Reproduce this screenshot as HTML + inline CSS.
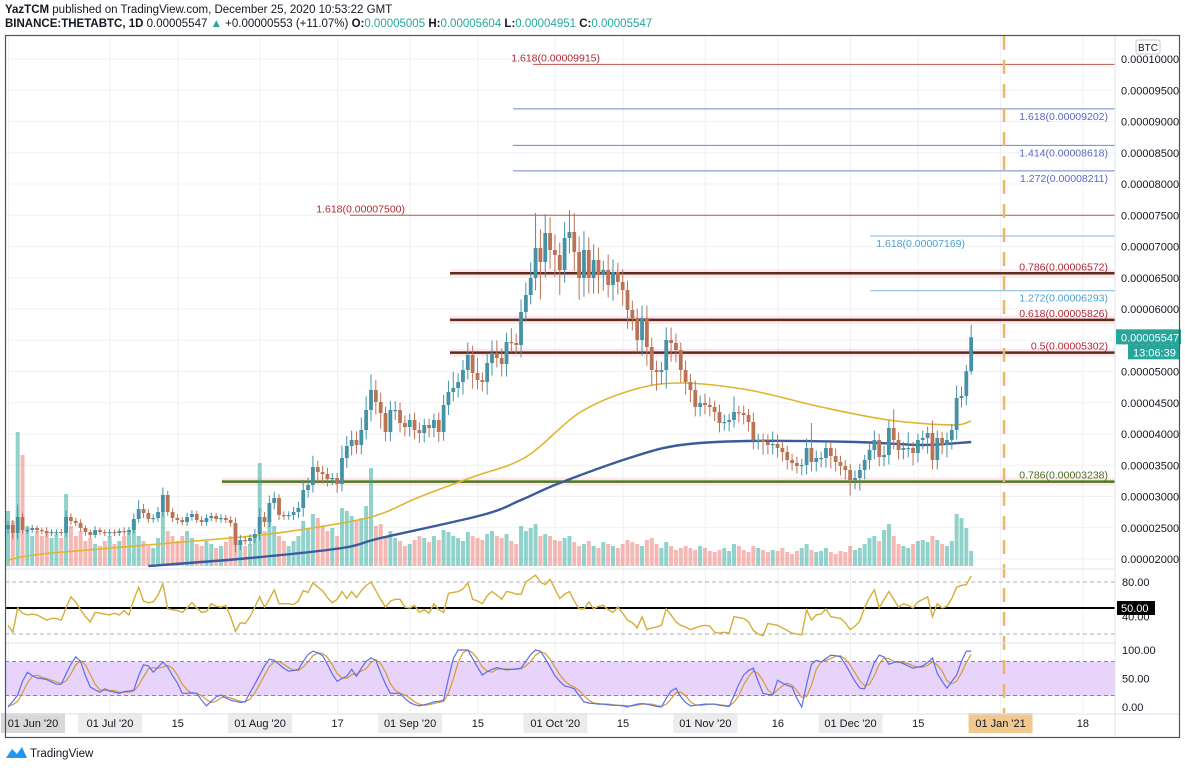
<!DOCTYPE html>
<html><head><meta charset="utf-8"><title>THETABTC chart</title>
<style>
html,body{margin:0;padding:0;background:#fff;}
body{width:1185px;height:768px;overflow:hidden;font-family:"Liberation Sans",sans-serif;}
svg text{font-family:"Liberation Sans",sans-serif;}
</style></head><body>
<svg id="chart" width="1185" height="768" viewBox="0 0 1185 768" xmlns="http://www.w3.org/2000/svg">
<rect x="0" y="0" width="1185" height="768" fill="#ffffff"/>
<g font-size="11.5" fill="#131722">
<text x="5" y="13"><tspan font-weight="bold">YazTCM</tspan> published on TradingView.com, December 25, 2020 10:53:22 GMT</text>
<text x="5" y="27"><tspan font-weight="bold">BINANCE:THETABTC, 1D</tspan> 0.00005547 <tspan fill="#26a69a">▲</tspan> +0.00000553 (+11.07%) <tspan font-weight="bold">O:</tspan><tspan fill="#26a69a">0.00005005</tspan> <tspan font-weight="bold">H:</tspan><tspan fill="#26a69a">0.00005604</tspan> <tspan font-weight="bold">L:</tspan><tspan fill="#26a69a">0.00004951</tspan> <tspan font-weight="bold">C:</tspan><tspan fill="#26a69a">0.00005547</tspan></text>
</g>
<g id="grid"></g>
<rect x="5" y="662" width="1110" height="34" fill="#e8d3fb"/>
<g id="levels"></g>
<g id="volumes"></g>
<g id="mas"></g>
<g id="candles"></g>
<g id="rsi"></g>
<g id="stoch"></g>
<line x1="1004" y1="36" x2="1004" y2="713" stroke="#e8b86a" stroke-width="2.5" stroke-dasharray="14,10"/>
<g id="axes"></g>
<g fill="none">
<line x1="5" y1="569" x2="1115" y2="569" stroke="#e0e3eb"/>
<line x1="5" y1="643" x2="1115" y2="643" stroke="#e0e3eb"/>
<line x1="5" y1="714" x2="1180" y2="714" stroke="#e0e3eb"/>
<line x1="1115" y1="35" x2="1115" y2="737" stroke="#e0e3eb"/>
<rect x="5.5" y="35.5" width="1174" height="702" stroke="#50535e" stroke-width="1.2"/>
</g>
<g>
<path d="M6 758 L12 749 L17 754 L22 747 L27 758 Z" fill="#2196f3"/>
<text x="30" y="757" font-size="11.5" fill="#131722">TradingView</text>
</g>
</svg>
<script>
const closes=[2544,2416,2672,2464,2464,2496,2464,2448,2416,2432,2432,2416,2672,2608,2576,2496,2432,2384,2464,2432,2416,2432,2416,2448,2432,2464,2640,2800,2736,2640,2656,2752,3024,2752,2656,2624,2592,2672,2720,2624,2592,2656,2688,2640,2656,2624,2576,2224,2304,2288,2336,2400,2672,2592,2896,2976,2704,2688,2704,2752,2816,3104,3184,3472,3392,3360,3280,3296,3200,3616,3808,3904,3824,4064,4384,4704,4512,4336,4032,4384,4384,4176,4112,4224,4064,4016,4144,4096,4224,4032,4464,4672,4736,4832,5024,5264,4976,4864,4832,5136,5296,5216,5120,5472,5456,5424,5952,6224,6496,6976,6752,7216,6944,6864,6624,7136,7232,6912,6496,6944,6496,6784,6544,6624,6384,6592,6432,6304,5984,5856,5504,5856,5392,5024,4992,5024,5504,5456,5344,5024,4832,4704,4432,4496,4464,4432,4352,4176,4192,4224,4352,4336,4304,4192,3904,3904,3872,3824,3840,3776,3712,3584,3536,3488,3504,3776,3552,3616,3616,3776,3648,3552,3488,3424,3264,3296,3424,3584,3744,3904,3632,3664,4096,3904,3744,3776,3776,3696,3904,3936,4016,3584,3936,3824,3904,4064,4576,4608,5005,5547];
const firstOpen=2480;
const wickUp=[60,80,200,60,40,50,40,40,60,40,40,50,100,60,50,60,40,40,60,40,40,50,40,40,60,50,90,140,80,60,60,80,120,70,60,60,50,70,60,50,60,60,50,50,60,50,60,90,80,60,60,80,140,80,120,100,60,60,60,80,100,160,120,180,100,100,100,80,80,200,160,150,140,200,220,250,160,150,100,150,140,120,120,100,120,120,100,100,100,120,160,180,260,140,160,200,150,240,120,160,200,200,150,150,220,150,200,200,250,560,300,300,250,250,200,250,350,300,250,300,200,250,200,150,250,200,150,200,150,150,150,200,200,150,150,130,200,200,150,120,150,130,150,120,150,120,100,120,120,100,250,100,120,100,150,100,100,120,200,150,100,100,100,100,100,150,400,120,100,100,100,120,100,100,100,120,100,80,100,150,100,150,120,300,120,100,250,100,100,120,100,200,120,100,120,100,200,150,100,200,250,57];
const wickDn=[80,100,100,60,60,50,50,50,60,50,50,50,60,60,50,60,60,50,50,50,50,60,50,50,60,50,60,60,80,60,60,60,80,60,60,60,50,60,60,50,60,60,50,50,60,50,60,120,80,60,60,80,100,80,80,100,80,60,60,80,100,140,120,120,160,150,120,100,140,120,160,150,140,150,150,180,200,250,150,150,160,150,150,150,150,160,150,150,150,160,140,160,150,150,200,150,250,150,150,200,200,150,200,200,150,150,200,150,150,200,600,250,300,350,400,200,250,300,350,300,250,250,300,250,200,250,200,250,300,200,200,250,300,250,300,200,300,300,200,200,200,200,150,150,150,150,150,150,120,150,120,150,150,150,150,150,200,150,150,150,150,150,120,120,150,150,150,150,150,150,200,150,150,150,250,150,200,150,150,150,150,150,150,150,150,150,150,200,150,150,250,150,150,150,200,150,150,150,150,54];
const volumes=[55,45,134,111,40,30,35,30,35,28,32,28,72,40,30,35,25,28,22,20,25,30,22,25,30,35,45,30,25,20,18,28,55,35,30,25,30,35,28,22,20,25,22,18,20,24,30,40,25,20,22,30,103,35,45,40,30,25,20,25,30,45,38,52,48,40,35,38,30,58,55,50,45,48,60,98,40,42,30,35,28,25,20,22,26,30,28,24,30,26,36,34,30,28,25,34,30,28,26,32,35,30,28,32,25,22,40,35,38,42,30,32,30,26,25,28,30,24,20,22,25,20,18,24,22,20,18,22,26,24,22,20,26,28,22,18,24,20,16,18,20,18,16,20,18,15,14,16,18,15,22,20,16,14,20,18,16,14,16,15,18,14,12,15,18,22,16,14,15,18,14,12,15,14,20,16,18,22,28,30,25,36,42,30,22,20,18,22,25,26,24,30,26,22,20,25,52,48,38,15];
const rsiValues=[30,22,50,44,42,43,42,39,36,38,38,36,50,63,57,48,40,34,45,44,43,42,44,42,47,42,60,74,58,56,57,65,78,49,48,47,45,50,56,50,45,46,55,52,51,53,40,23,33,32,40,51,63,51,60,71,55,55,55,54,58,70,68,79,74,70,62,56,60,69,61,69,62,70,76,80,70,60,51,58,60,60,51,50,53,45,48,44,55,48,45,67,68,69,72,79,60,58,55,64,69,65,60,69,68,66,66,80,84,88,80,77,83,72,61,66,69,58,49,49,57,49,52,53,48,45,51,44,36,33,27,40,25,27,28,30,49,42,34,30,28,25,27,29,30,29,22,21,22,21,40,39,38,34,24,20,18,32,31,30,27,24,21,20,19,48,36,42,43,49,40,39,38,33,25,29,35,51,62,71,50,60,69,60,51,55,53,50,57,60,63,40,55,50,52,61,74,76,77,87];
const stochK=[0,10,21,45,61,55,51,50,48,44,40,40,58,75,88,80,55,35,30,26,32,28,26,24,27,28,30,55,74,72,61,70,79,70,55,42,24,24,25,24,12,2,10,18,21,16,12,10,8,9,25,40,56,72,84,82,75,68,63,64,66,80,92,98,95,90,75,58,45,50,54,66,54,68,80,86,82,60,40,24,24,24,15,8,4,2,4,6,9,10,12,50,85,100,100,100,85,70,56,62,66,69,67,65,66,67,68,80,92,100,98,85,70,55,45,37,35,32,20,9,7,6,5,5,4,3,3,2,0,3,5,6,5,3,1,0,15,28,33,18,8,2,3,4,5,5,5,3,2,1,20,40,56,64,68,45,24,22,21,47,42,38,35,15,0,40,75,82,79,85,91,90,88,75,60,45,33,32,55,78,91,88,75,78,80,76,72,68,70,72,78,86,59,45,33,45,56,80,98,98];
const stochD=[2,4,10,25,42,54,56,52,50,47,44,41,46,58,74,81,74,57,40,30,29,29,29,26,26,26,28,38,53,67,69,68,70,73,68,56,40,30,24,24,20,13,8,10,16,18,16,13,10,9,14,25,40,56,71,79,80,75,69,65,64,70,79,90,95,94,87,74,59,51,50,57,58,63,67,78,83,76,61,41,29,24,21,16,9,5,3,4,6,8,10,24,49,78,95,100,95,85,70,63,61,66,67,67,66,66,67,72,80,91,97,94,84,70,57,46,39,35,29,20,12,7,6,5,5,4,3,3,2,2,3,5,5,5,3,1,5,14,25,26,20,9,4,3,4,5,5,4,3,2,8,20,39,53,63,59,46,30,22,30,37,42,38,29,17,18,38,66,79,82,85,89,90,84,74,60,46,37,40,55,75,86,85,80,78,78,76,72,70,70,73,79,74,63,46,41,45,60,78,92];
const ma100Idx=[0,9,46,60,75,85,96,107,118,129,139,153,168,182,195,199];
const ma100Val=[1984,2096,2336,2464,2672,2992,3312,3632,4336,4704,4816,4704,4432,4224,4144,4208];
const ma200Idx=[29,50,69,77,98,106,114,129,139,153,175,189,199];
const ma200Val=[1888,2016,2176,2336,2704,2944,3216,3632,3824,3888,3872,3824,3872];
const fibValues=[9915,9202,8618,8211,7500,7169,6572,6293,5826,5302,3238];
const fibLabels=["1.618(0.00009915)","1.618(0.00009202)","1.414(0.00008618)","1.272(0.00008211)","1.618(0.00007500)","1.618(0.00007169)","0.786(0.00006572)","1.272(0.00006293)","0.618(0.00005826)","0.5(0.00005302)","0.786(0.00003238)"];
const priceTicks=[10000,9500,9000,8500,8000,7500,7000,6500,6000,5500,5000,4500,4000,3500,3000,2500,2000];
const timeLabels=["01 Jun '20","01 Jul '20","15","01 Aug '20","17","01 Sep '20","15","01 Oct '20","15","01 Nov '20","16","01 Dec '20","15","01 Jan '21","18"];
const timeIdx=[-21,0,14,31,47,62,76,92,106,123,138,153,167,184,201];

const NS='http://www.w3.org/2000/svg';
function mk(tag,attrs,parent){const e=document.createElementNS(NS,tag);for(const k in attrs)e.setAttribute(k,attrs[k]);parent.appendChild(e);return e;}
const xOf=i=>8+i*4.84;
const xT=t=>110+t*4.84;
const yP=p=>59+(10000-p)*0.0625;
const yR=v=>608-(v-50)*0.8667;
const yS=v=>707-v*0.57;
const fmt=p=>'0.'+String(Math.round(p)).padStart(8,'0');

const grid=document.getElementById('grid');
priceTicks.forEach(p=>{const l=mk('line',{x1:5,x2:1115,y1:yP(p),y2:yP(p),stroke:'#f0f1f5'},grid);

});
timeIdx.forEach(t=>{const l=mk('line',{x1:xT(t),x2:xT(t),y1:36,y2:713,stroke:'#eef0f4'},grid);

});

const lv=document.getElementById('levels');
const fibStyle=[['#c0504d',1,533,'#b22833'],['#6f82d1',1,513,'#5868c2'],['#6f82d1',1,513,'#5868c2'],['#6f82d1',1,513,'#5868c2'],['#c0504d',1,350,'#b22833'],['#7ab8e0',1,870,'#4d9fcf'],['#5a2e1a',2.6,450,'#b22833'],['#7ab8e0',1,870,'#4d9fcf'],['#5a2e1a',2.6,450,'#b22833'],['#5a2e1a',2.6,450,'#b22833'],['#4b7a1c',2.6,222,'#4b6a1c']];
const labelX=[600,1108,1108,1108,405,965,1108,1108,1108,1108,1108];
fibValues.forEach((v,k)=>{const s=fibStyle[k];const y=yP(v);
if(s[1]>2){const h=mk('line',{x1:s[2],x2:1115,y1:y,y2:y,stroke:'#ffd6e6','stroke-width':8,opacity:0.6},lv);

}
const l=mk('line',{x1:s[2],x2:1115,y1:y,y2:y,stroke:s[0],'stroke-width':s[1]},lv);


const below=(k===1||k===2||k===3||k===5||k===7);
const t=mk('text',{x:labelX[k],y:below?y+11:y-3,'text-anchor':'end','font-size':10.5,fill:s[3]},lv);
t.textContent=fibLabels[k];

});

const vg=document.getElementById('volumes');
const volMax=Math.max(...volumes);
volumes.forEach((v,i)=>{const o=i===0?firstOpen:closes[i-1];const up=closes[i]>=o;const h=v/volMax*134;
const r=mk('rect',{x:xOf(i)-2,y:566-h,width:4,height:h,fill:up?'rgba(38,166,154,0.5)':'rgba(230,100,90,0.45)'},vg);

});

function smooth(pts){let d='M'+pts[0][0]+' '+pts[0][1];for(let k=0;k<pts.length-1;k++){const p0=pts[Math.max(0,k-1)],p1=pts[k],p2=pts[k+1],p3=pts[Math.min(pts.length-1,k+2)];
d+=' C'+(p1[0]+(p2[0]-p0[0])/6)+' '+(p1[1]+(p2[1]-p0[1])/6)+' '+(p2[0]-(p3[0]-p1[0])/6)+' '+(p2[1]-(p3[1]-p1[1])/6)+' '+p2[0]+' '+p2[1];}return d;}
const mg=document.getElementById('mas');
const m1=mk('path',{d:smooth(ma100Idx.map((i,k)=>[xOf(i),yP(ma100Val[k])])),fill:'none',stroke:'#e0b52e','stroke-width':1.6},mg);


const m2=mk('path',{d:smooth(ma200Idx.map((i,k)=>[xOf(i),yP(ma200Val[k])])),fill:'none',stroke:'#3c5a9c','stroke-width':2.4},mg);



const cg=document.getElementById('candles');
closes.forEach((c,i)=>{const o=i===0?firstOpen:closes[i-1];const up=c>=o;const col=up?'#4592a6':'#bb7356';
const hi=Math.max(o,c)+wickUp[i],lo=Math.min(o,c)-wickDn[i];const x=xOf(i);
const w=mk('line',{x1:x,x2:x,y1:yP(hi),y2:yP(lo),stroke:col,'stroke-width':1},cg);


const yt=yP(Math.max(o,c)),yb=yP(Math.min(o,c));
const b=mk('rect',{x:x-1.9,y:yt,width:3.8,height:Math.max(1.2,yb-yt),fill:col},cg);

});

const rg=document.getElementById('rsi');
[80,20].forEach(v=>{const l=mk('line',{x1:5,x2:1115,y1:yR(v),y2:yR(v),stroke:'#9598a1','stroke-dasharray':'4,3','stroke-width':0.8},rg);

});
const r50=mk('line',{x1:5,x2:1115,y1:yR(50),y2:yR(50),stroke:'#000','stroke-width':2},rg);


const rl=mk('polyline',{points:rsiValues.map((v,i)=>xOf(i)+','+yR(v)).join(' '),fill:'none',stroke:'#d4af37','stroke-width':1.4},rg);



const sg=document.getElementById('stoch');
[80,20].forEach(v=>{const l=mk('line',{x1:5,x2:1115,y1:yS(v),y2:yS(v),stroke:'#787b86','stroke-dasharray':'4,3','stroke-width':0.9},sg);

});
const sd=mk('polyline',{points:stochD.map((v,i)=>xOf(i)+','+yS(v)).join(' '),fill:'none',stroke:'#d49a3a','stroke-width':1.2},sg);


const sk=mk('polyline',{points:stochK.map((v,i)=>xOf(i)+','+yS(v)).join(' '),fill:'none',stroke:'#5b6ee8','stroke-width':1.2},sg);



const ax=document.getElementById('axes');
priceTicks.forEach(p=>{const t=mk('text',{x:1121,y:yP(p)+4,'font-size':11,fill:'#131722'},ax);t.textContent=fmt(p);

});
const btc=mk('rect',{x:1136,y:40,width:24,height:14,rx:2,fill:'#fff',stroke:'#c8cad0'},ax);


const bt=mk('text',{x:1148,y:51,'font-size':10,'text-anchor':'middle',fill:'#131722'},ax);bt.textContent='BTC';


const last=closes[closes.length-1];
const pb=mk('rect',{x:1116,y:yP(last)-8,width:65,height:15,fill:'#26a69a'},ax);


const pt=mk('text',{x:1121,y:yP(last)+4,'font-size':11,fill:'#fff'},ax);pt.textContent=fmt(last);


const cb=mk('rect',{x:1128,y:yP(last)+7,width:52,height:15,fill:'#26a69a'},ax);


const ct=mk('text',{x:1133,y:yP(last)+19,'font-size':11,fill:'#fff'},ax);ct.textContent='13:06:39';


[[80,'80.00'],[40,'40.00']].forEach(a=>{const t=mk('text',{x:1122,y:yR(a[0])+4,'font-size':11,fill:'#131722'},ax);t.textContent=a[1];

});
const rb=mk('rect',{x:1117,y:yR(50)-7,width:38,height:14,fill:'#000'},ax);


const rbt=mk('text',{x:1121,y:yR(50)+4,'font-size':11,fill:'#fff'},ax);rbt.textContent='50.00';


[[100,'100.00'],[50,'50.00'],[0,'0.00']].forEach(a=>{const t=mk('text',{x:1122,y:yS(a[0])+4,'font-size':11,fill:'#131722'},ax);t.textContent=a[1];

});
timeLabels.forEach((s,k)=>{const x=xT(timeIdx[k]);let cx=x;if(k===0)cx=33;
const boxed=s.length>3;
if(boxed){const jan=s.indexOf('Jan')>=0;const bw=s.length*5.6+8;
const b=mk('rect',{x:cx-bw/2,y:713,width:bw,height:20,fill:jan?'#f0c890':(k===0?'#d8d8d8':'#ececec')},ax);

}
const t=mk('text',{x:cx,y:727,'font-size':11,'text-anchor':'middle',fill:'#131722'},ax);t.textContent=s;

});
</script>
</body></html>
